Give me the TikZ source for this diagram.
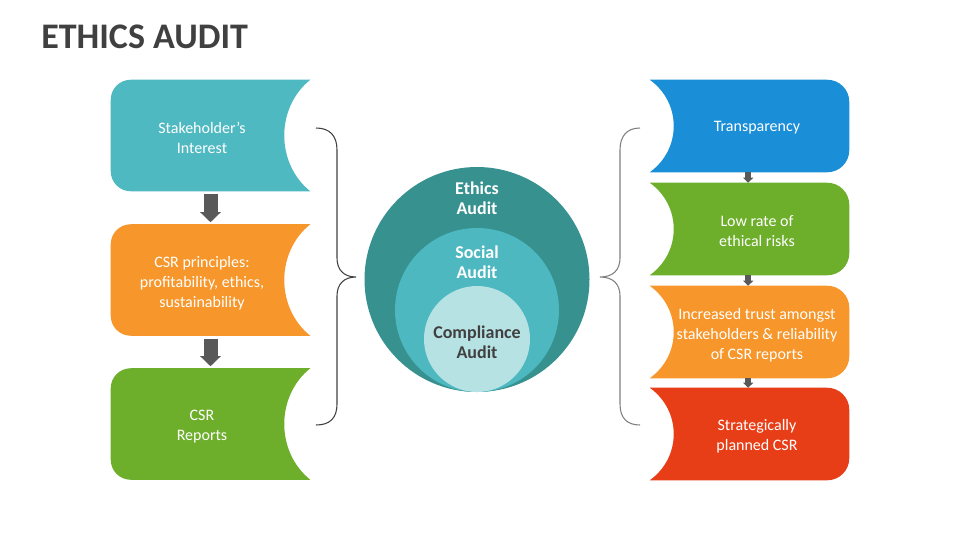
\documentclass[tikz,border=0pt]{standalone}
\usepackage{fontspec}
\setmainfont{Carlito}
\usetikzlibrary{arrows.meta,backgrounds}

\definecolor{titlegray}{HTML}{404040}
\definecolor{arrowgray}{HTML}{595959}
\definecolor{tealbox}{HTML}{4FB9C1}
\definecolor{orangebox}{HTML}{F7962A}
\definecolor{greenbox}{HTML}{6DAE2B}
\definecolor{bluebox}{HTML}{1A8FD7}
\definecolor{redbox}{HTML}{E83E17}
\definecolor{ethicsc}{HTML}{37918F}
\definecolor{socialc}{HTML}{4DB8C0}
\definecolor{complc}{HTML}{B7E2E4}

\newcommand{\leftpiece}[2]{\fill[#2] (#1.south east) .. controls +(-34.7,-28) and +(-34.7,28) .. (#1.north east) -- ([xshift=15pt]#1.north west) arc[start angle=270,end angle=180,radius=20] -- ([yshift=15pt]#1.south west) arc[start angle=180,end angle=90,radius=20] -- cycle;}
\newcommand{\rightpiece}[2]{\fill[#2] (#1.north west) .. controls +(32,23) and +(32,-23) .. (#1.south west) -- ([xshift=-16.5pt]#1.south east) arc[start angle=90,end angle=0,radius=22] -- ([yshift=-16.5pt]#1.north east) arc[start angle=0,end angle=-90,radius=22] -- cycle;}

\begin{document}
\begin{tikzpicture}[x=0.75pt,y=-0.75pt,
  lbox/.style={minimum width=149.25pt,minimum height=83.25pt,inner sep=0pt},
  rbox/.style={minimum width=149.25pt,minimum height=69pt,inner sep=0pt},
  txt/.style={text=white,align=center,inner sep=0pt,font=\fontsize{12}{15}\selectfont},
  ring/.style={circle,inner sep=0pt},
  ctxt/.style={align=center,inner sep=0pt,font=\fontsize{13.5}{15}\selectfont\bfseries},
  bigarrow/.style={arrowgray,line width=10.5pt,-{Triangle[width=15pt,length=7.5pt]},shorten <=2.25pt,shorten >=1.5pt},
  smallarrow/.style={arrowgray,line width=4.5pt,-{Triangle[width=7.5pt,length=3.75pt]}},
  bracel/.style={titlegray,line width=0.8pt},
  bracer/.style={black!50,line width=0.8pt}]
\useasboundingbox (0,0) rectangle (960,540);
\node[anchor=base west,inner sep=0pt,text=titlegray,font=\fontsize{27}{32}\selectfont\bfseries] (title) at (41,48.5) {ETHICS AUDIT};

\node[lbox] (stake) at (210.5,135.5) {};
\node[lbox] (princ) at (210.5,280) {};
\node[lbox] (reports) at (210.5,424) {};
\node[rbox] (transp) at (749.5,126) {};
\node[rbox] (lowrisk) at (749.5,229) {};
\node[rbox] (trust) at (749.5,332) {};
\node[rbox] (csrplan) at (749.5,434) {};
\begin{pgfonlayer}{background}
\leftpiece{stake}{tealbox}
\leftpiece{princ}{orangebox}
\leftpiece{reports}{greenbox}
\rightpiece{transp}{bluebox}
\rightpiece{lowrisk}{greenbox}
\rightpiece{trust}{orangebox}
\rightpiece{csrplan}{redbox}
\end{pgfonlayer}

\node[txt] (stake-t) at (202,138) {Stakeholder’s\\Interest};
\node[txt] (princ-t) at (202,283) {CSR principles:\\profitability, ethics,\\sustainability};
\node[txt] (reports-t) at (202,427) {CSR\\Reports};
\node[txt] (transp-t) at (757,128) {Transparency};
\node[txt] (lowrisk-t) at (757,231) {Low rate of\\ethical risks};
\node[txt] (trust-t) at (757,335) {Increased trust amongst\\stakeholders \& reliability\\of CSR reports};
\node[txt] (csrplan-t) at (757,436.5) {Strategically\\planned CSR};

\draw[bigarrow] (stake.south) -- (princ.north);
\draw[bigarrow] (princ.south) -- (reports.north);
\draw[smallarrow] ([xshift=-1pt]transp.south) -- ([xshift=-1pt]lowrisk.north);
\draw[smallarrow] ([xshift=-1pt]lowrisk.south) -- ([xshift=-1pt]trust.north);
\draw[smallarrow] ([xshift=-1pt]trust.south) -- ([xshift=-1pt]csrplan.north);

\draw[bracel] (316,128) .. controls (330,128) and (337,136) .. (337,150) -- (337,258) .. controls (337,270) and (344,277) .. (356,277) .. controls (344,277) and (337,284) .. (337,296) -- (337,404) .. controls (337,418) and (330,425) .. (316,425);
\draw[bracer] (640,128) .. controls (627,128) and (620,136) .. (620,150) -- (620,258) .. controls (620,270) and (613,277) .. (600,277) .. controls (613,277) and (620,284) .. (620,296) -- (620,404) .. controls (620,418) and (627,425) .. (640,425);

\node[ring,fill=ethicsc,minimum size=168.75pt] (ethics) at (477,279.5) {};
\node[ring,fill=socialc,minimum size=123pt] (social) at (477,310) {};
\node[ring,fill=complc,minimum size=79.5pt] (compl) at (477,339) {};
\node[ctxt,text=white] (ethics-t) at (477,198) {Ethics\\Audit};
\node[ctxt,text=white] (social-t) at (477,262) {Social\\Audit};
\node[ctxt,text=titlegray] (compl-t) at (477,342) {Compliance\\Audit};
\end{tikzpicture}
\end{document}
